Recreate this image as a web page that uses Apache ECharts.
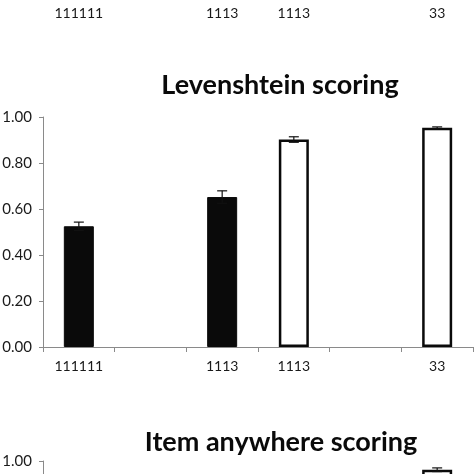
<!DOCTYPE html>
<html><head><meta charset="utf-8">
<script src="https://cdn.jsdelivr.net/npm/echarts@6/dist/echarts.min.js"></script>
<style>html,body{margin:0;padding:0;background:#fff}#c{width:474px;height:474px}</style>
</head><body><div id="c"></div>
<script>
const categories = ['111111', '', '1113', '1113', '', '33'];
const fillKinds = ['black', null, 'black', 'white', null, 'white'];
const levValues = [0.525, null, 0.652, 0.902, null, 0.953];
const levErrors = [0.018, null, 0.027, 0.012, null, 0.004];
const itemValues = [null, null, null, null, null, 0.962];
const itemErrors = [null, null, null, null, null, 0.008];
const yMin = 0, yMax = 1, yStep = 0.2;
const titleMain = 'Levenshtein scoring';
const titleNext = 'Item anywhere scoring';

const FONT = 'Lato, "Open Sans", sans-serif';
const AX = '#8a8a8a';

function barData(vals) {
  return vals.map((v, i) => v == null ? '-' : {
    value: v,
    itemStyle: fillKinds[i] === 'black'
      ? { color: '#0a0a0a', borderColor: '#0a0a0a', borderWidth: 1 }
      : { color: '#ffffff', borderColor: '#0a0a0a', borderWidth: 2.5 }
  });
}
function errData(vals, errs) {
  const out = [];
  vals.forEach((v, i) => { if (v != null) out.push([i, v, errs[i]]); });
  return out;
}
function renderErr(params, api) {
  const i = api.value(0), v = api.value(1), e = api.value(2);
  const hi = api.coord([i, v + e]);
  const lo = api.coord([i, v - e]);
  const h = 5;
  const st = { stroke: '#111', lineWidth: 1.2 };
  return { type: 'group', children: [
    { type: 'line', shape: { x1: hi[0], y1: hi[1], x2: lo[0], y2: lo[1] }, style: st },
    { type: 'line', shape: { x1: hi[0] - h, y1: hi[1], x2: hi[0] + h, y2: hi[1] }, style: st },
    { type: 'line', shape: { x1: lo[0] - h, y1: lo[1], x2: lo[0] + h, y2: lo[1] }, style: st }
  ]};
}
function xAx(gi, showLine) {
  return {
    type: 'category', gridIndex: gi, data: categories,
    axisLine: { show: showLine, lineStyle: { color: AX, width: 1 } },
    axisTick: { show: showLine, interval: 0, length: 5, lineStyle: { color: AX } },
    axisLabel: { interval: 0, color: '#1a1a1a', fontSize: 14, fontFamily: FONT, margin: 12 }
  };
}
function yAx(gi, show) {
  return {
    type: 'value', gridIndex: gi, min: yMin, max: yMax, interval: yStep, show: show,
    axisLine: { show: true, lineStyle: { color: AX, width: 1 } },
    axisTick: { show: true, length: 4, lineStyle: { color: AX } },
    splitLine: { show: false },
    axisLabel: { color: '#1a1a1a', fontSize: 15, fontFamily: FONT, margin: 11,
      formatter: v => v.toFixed(2) }
  };
}

const chart = echarts.init(document.getElementById('c'), null, { renderer: 'canvas' });
const gridBase = { left: 43, width: 430, outerBoundsMode: 'none', containLabel: false };
chart.setOption({
  animation: false,
  backgroundColor: '#fff',
  grid: [
    Object.assign({}, gridBase, { top: -106, height: 100 }),
    Object.assign({}, gridBase, { top: 117, height: 230 }),
    Object.assign({}, gridBase, { top: 461, height: 230 })
  ],
  xAxis: [xAx(0, false), xAx(1, true), xAx(2, true)],
  yAxis: [yAx(0, false), yAx(1, true), yAx(2, true)],
  graphic: [
    { type: 'text', x: 280, y: 85,
      style: { text: titleMain, font: 'bold 27px ' + FONT, fill: '#0a0a0a', textAlign: 'center', textVerticalAlign: 'middle' } },
    { type: 'text', x: 281, y: 442,
      style: { text: titleNext, font: 'bold 27px ' + FONT, fill: '#0a0a0a', textAlign: 'center', textVerticalAlign: 'middle' } }
  ],
  series: [
    { type: 'bar', xAxisIndex: 1, yAxisIndex: 1, barWidth: 30, data: barData(levValues) },
    { type: 'custom', xAxisIndex: 1, yAxisIndex: 1, renderItem: renderErr, data: errData(levValues, levErrors), z: 5 },
    { type: 'bar', xAxisIndex: 2, yAxisIndex: 2, barWidth: 30, data: barData(itemValues) },
    { type: 'custom', xAxisIndex: 2, yAxisIndex: 2, renderItem: renderErr, data: errData(itemValues, itemErrors), z: 5 }
  ]
});
</script></body></html>
